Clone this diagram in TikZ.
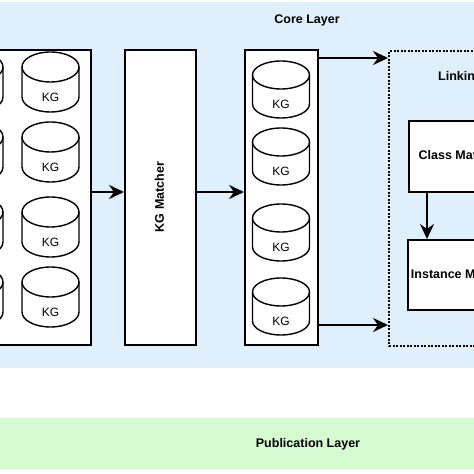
\documentclass[tikz,border=0pt]{standalone}
\usepackage{fontspec}
\setmainfont{Liberation Sans}
\usetikzlibrary{arrows.meta}
\definecolor{coreblue}{HTML}{DFF0FC}
\definecolor{pubgreen}{HTML}{D6FAD2}
\tikzset{
  boxline/.style={draw=black, line width=2pt, fill=white},
  cylline/.style={draw=black, line width=1.4pt},
  arr/.style={line width=2pt, -{Stealth[length=15pt,width=14pt,inset=5pt]}},
  layertxt/.style={font=\fontsize{12.5}{14}\selectfont\bfseries, inner sep=0pt},
  kgtxt/.style={font=\fontsize{12}{14}\selectfont, inner sep=0pt},
}
% cylinder body: cx, top Y, bottom Y, ry
\newcommand\kgbody[4]{%
  \filldraw[cylline, fill=white] (#1-28.5,#2-#4) -- (#1-28.5,#3+#4)
    arc[start angle=180,end angle=360,x radius=28.5,y radius=#4]
    -- (#1+28.5,#2-#4)
    arc[start angle=0,end angle=180,x radius=28.5,y radius=#4] -- cycle;
  \draw[cylline] (#1-28.5,#2-#4) arc[start angle=180,end angle=360,x radius=28.5,y radius=#4];
}
% labelled cylinder: name, cx, top Y, bottom Y, ry
\newcommand\kgcyl[5]{%
  \kgbody{#2}{#3}{#4}{#5}
  \node[kgtxt] (#1) at (#2,#4+#5) {KG};
}
\begin{document}
\begin{tikzpicture}[x=1pt,y=1pt]
\useasboundingbox (0,0) rectangle (474,474);
\clip (0,0) rectangle (474,474);
\fill[white] (0,0) rectangle (474,474);
\fill[coreblue] (-5,106) rectangle (480,472);
\fill[pubgreen] (-5,5) rectangle (480,56);
\node[layertxt] (core) at (307,454) {Core Layer};
\node[layertxt] (pub) at (308,30) {Publication Layer};

% left KG store (partly outside the picture)
\node[boxline, minimum width=132pt, minimum height=295pt, anchor=north east] (left) at (92,425) {};
\kgbody{-25.5}{422}{362}{15}
\kgbody{-25.5}{352}{292}{15}
\kgbody{-25.5}{277}{217}{15}
\kgbody{-25.5}{207}{147}{15}
\kgcyl{l2a}{50.5}{422}{362}{15}
\kgcyl{l2b}{50.5}{352}{292}{15}
\kgcyl{l2c}{50.5}{277}{217}{15}
\kgcyl{l2d}{50.5}{207}{147}{15}

% KG matcher
\node[boxline, minimum width=71pt, minimum height=295pt, anchor=north west] (match) at (124,425) {};
\node[layertxt, rotate=90] (matchtxt) at (159.5,277) {KG Matcher};

% middle KG store
\node[boxline, minimum width=73pt, minimum height=295pt, anchor=north west] (mid) at (244,425) {};
\kgcyl{m1}{281}{413}{356}{14}
\kgcyl{m2}{281}{346}{289}{14}
\kgcyl{m3}{281}{270}{213}{14}
\kgcyl{m4}{281}{196}{139}{14}

% linking layer
\node[draw=black, line width=2.2pt, dash pattern=on 2pt off 1.5pt, minimum width=120pt, minimum height=295pt, anchor=north west] (link) at (388,424) {};
\node[layertxt, anchor=west] (linktxt) at (438,397) {Linking Layer};
\node[boxline, minimum width=106pt, minimum height=71pt, anchor=north west] (cm) at (408,354) {};
\node[layertxt] (cmtxt) at (461,318.5) {Class Matcher};
\node[boxline, minimum width=108pt, minimum height=70pt, anchor=north west] (im) at (407,235) {};
\node[layertxt] (imtxt) at (462,200) {Instance Matcher};
\coordinate (cax) at (427,0);

% connectors
\draw[arr] (left.east |- 0,282) -- (match.west |- 0,282);
\draw[arr] (match.east |- 0,282) -- (mid.west |- 0,282);
\draw[arr] (mid.east |- 0,416) -- (link.west |- 0,416);
\draw[arr] (mid.east |- 0,149) -- (link.west |- 0,149);
\draw[arr] (cm.south -| cax) -- (im.north -| cax);
\end{tikzpicture}
\end{document}
